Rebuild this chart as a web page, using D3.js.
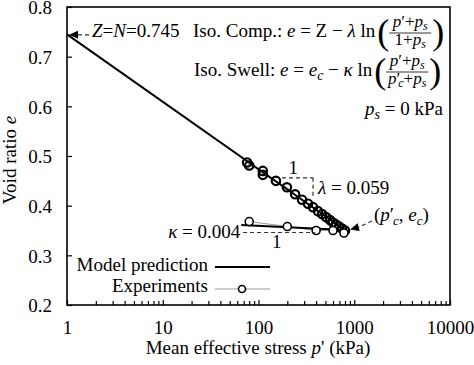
<!DOCTYPE html>
<html><head><meta charset="utf-8">
<script src="https://cdn.jsdelivr.net/npm/d3@7"></script>
</head><body style="margin:0;background:#fff">
<svg id="c" width="474" height="365"></svg>
<script>
// ---- data ----
const xTickValues = [1, 10, 100, 1000, 10000];
const xTickLabels = ["1", "10", "100", "1000", "10000"];
const yTickValues = [0.2, 0.3, 0.4, 0.5, 0.6, 0.7, 0.8];
const yTickLabels = ["0.2", "0.3", "0.4", "0.5", "0.6", "0.7", "0.8"];

// experiments: isotropic compression
const compP = [76, 80, 111, 111, 152, 198, 241, 285, 329, 371, 418, 461, 507, 558, 600, 645, 693, 745, 800];
const compE = [0.487, 0.481, 0.470, 0.462, 0.450, 0.437, 0.423, 0.412, 0.404, 0.397, 0.389, 0.383, 0.377, 0.371, 0.366, 0.362, 0.358, 0.354, 0.350];
// experiments: isotropic swelling
const swellP = [780, 600, 400, 200, 80];
const swellE = [0.345, 0.350, 0.350, 0.358, 0.368];
// model prediction
const modelCompP = [1, 800];
const modelCompE = [0.745, 0.351];
const modelSwellP = [800, 66];
const modelSwellE = [0.351, 0.361];

// ---- layout ----
const FONT = "Liberation Serif";
const svg = d3.select("#c");
const L = 67, R = 450, T = 7, B = 305;
const x = d3.scaleLog().domain([1, 10000]).range([L, R]);
const y = d3.scaleLinear().domain([0.2, 0.8]).range([B, T]);
const FS = 19;

const minor = [];
[1, 10, 100, 1000].forEach(d => { for (let k = 2; k <= 9; k++) minor.push(d * k); });

const gxm = svg.append("g").attr("transform", `translate(0,${B})`)
  .call(d3.axisBottom(x).tickValues(minor).tickSize(-4).tickFormat(""));
const gx = svg.append("g").attr("transform", `translate(0,${B})`)
  .call(d3.axisBottom(x).tickValues(xTickValues).tickSize(-5).tickPadding(16)
    .tickFormat((d, i) => xTickLabels[i]));
const gy = svg.append("g").attr("transform", `translate(${L},0)`)
  .call(d3.axisLeft(y).tickValues(yTickValues).tickSize(-5).tickPadding(15)
    .tickFormat((d, i) => yTickLabels[i]));
[gx, gy, gxm].forEach(g => {
  g.attr("font-family", FONT).attr("font-size", FS);
  g.select(".domain").remove();
  g.selectAll("line").attr("stroke", "#000").attr("stroke-width", 1.2);
});
gy.selectAll("text").attr("dy", "0.36em");

// frame
svg.append("rect").attr("x", L).attr("y", T).attr("width", R - L).attr("height", B - T)
  .attr("fill", "none").attr("stroke", "#000").attr("stroke-width", 1.6);

// axis titles
const xt = svg.append("text").attr("x", 258).attr("y", 354).attr("text-anchor", "middle").attr("font-size", FS);
xt.append("tspan").text("Mean effective stress ");
xt.append("tspan").attr("font-style", "italic").text("p");
xt.append("tspan").text("' (kPa)");
const yt = svg.append("text").attr("transform", "translate(16,160) rotate(-90)").attr("text-anchor", "middle").attr("font-size", FS);
yt.append("tspan").text("Void ratio ");
yt.append("tspan").attr("font-style", "italic").text("e");

// ---- marks ----
const line = d3.line().x(d => x(d[0])).y(d => y(d[1]));
svg.append("path").datum(compP.map((p, i) => [p, compE[i]]).concat(swellP.map((p, i) => [p, swellE[i]])))
  .attr("d", line).attr("fill", "none").attr("stroke", "#999").attr("stroke-width", 1);
svg.append("path").datum(modelCompP.map((p, i) => [p, modelCompE[i]]))
  .attr("d", line).attr("fill", "none").attr("stroke", "#000").attr("stroke-width", 2);
svg.append("path").datum(modelSwellP.map((p, i) => [p, modelSwellE[i]]))
  .attr("d", line).attr("fill", "none").attr("stroke", "#000").attr("stroke-width", 2);
svg.append("g").selectAll("circle").data(compP.map((p, i) => [p, compE[i]])).join("circle")
  .attr("cx", d => x(d[0])).attr("cy", d => y(d[1])).attr("r", 4.2)
  .attr("fill", "none").attr("stroke", "#000").attr("stroke-width", 2.2);
svg.append("g").selectAll("circle").data(swellP.map((p, i) => [p, swellE[i]])).join("circle")
  .attr("cx", d => x(d[0])).attr("cy", d => y(d[1])).attr("r", 4)
  .attr("fill", "#fff").attr("stroke", "#000").attr("stroke-width", 1.6);

// ---- annotations ----
const dash = (x1, y1, x2, y2) => svg.append("line").attr("x1", x1).attr("y1", y1).attr("x2", x2).attr("y2", y2)
  .attr("stroke", "#333").attr("stroke-width", 1.2).attr("stroke-dasharray", "4,3");
const arrowHead = (tx, ty, ang) => {
  const a = ang * Math.PI / 180, l = 9, w = 4;
  const bx = tx - l * Math.cos(a), by = ty - l * Math.sin(a);
  const px = -Math.sin(a) * w, py = Math.cos(a) * w;
  svg.append("path").attr("d", `M${tx},${ty}L${bx + px},${by + py}L${bx - px},${by - py}Z`).attr("fill", "#000");
};
// Z=N
arrowHead(x(1) + 2, y(0.745) + 0.5, 180);
dash(x(1) + 11, y(0.745) + 0.5, x(1) + 23, y(0.745) + 0.5);
const zt = svg.append("text").attr("x", x(1) + 25).attr("y", 37).attr("font-size", FS);
zt.append("tspan").attr("font-style", "italic").text("Z");
zt.append("tspan").text("=");
zt.append("tspan").attr("font-style", "italic").text("N");
zt.append("tspan").text("=0.745");

// lambda triangle
dash(x(176), y(0.456), x(371), y(0.456));
dash(x(371), y(0.456), x(371), y(0.414));
svg.append("text").attr("x", x(230)).attr("y", 174).attr("text-anchor", "middle").attr("font-size", FS).text("1");
const lt = svg.append("text").attr("x", x(371) + 5).attr("y", 194).attr("font-size", FS);
lt.append("tspan").attr("font-style", "italic").text("λ");
lt.append("tspan").text(" = 0.059");

// kappa triangle
dash(x(69), y(0.346), x(390), y(0.346));
svg.append("text").attr("x", x(155)).attr("y", 248).attr("text-anchor", "middle").attr("font-size", FS).text("1");
const kt = svg.append("text").attr("x", x(66) - 1).attr("y", 238).attr("text-anchor", "end").attr("font-size", FS);
kt.append("tspan").attr("font-style", "italic").text("κ");
kt.append("tspan").text(" = 0.004");

// (p'c, ec)
dash(372, 221, 359, 227);
arrowHead(350, 229.5, 165);
const pc = svg.append("text").attr("x", 374).attr("y", 221).attr("font-size", FS);
pc.append("tspan").text("(");
pc.append("tspan").attr("font-style", "italic").text("p");
pc.append("tspan").text("′");
pc.append("tspan").attr("font-style", "italic").attr("font-size", 13).attr("dx", -1).attr("dy", 4).text("c");
pc.append("tspan").attr("dy", -4).text(", ");
pc.append("tspan").attr("font-style", "italic").text("e");
pc.append("tspan").attr("font-style", "italic").attr("font-size", 13).attr("dy", 4).text("c");
pc.append("tspan").attr("dy", -4).text(")");

// equations
function eqLine(x0, yb, parts, numParts, denParts, numDy, denDy) {
  const t = svg.append("text").attr("x", x0).attr("y", yb).attr("font-size", FS).style("font-family", FONT);
  parts.forEach(p => {
    const s = t.append("tspan").text(p.t);
    if (p.i) s.attr("font-style", "italic");
    if (p.sub) s.attr("font-size", 14).attr("dy", 4);
    if (p.up) s.attr("dy", -4);
  });
  const endX = x0 + t.node().getComputedTextLength();
  const px = endX + 2;
  svg.append("text").attr("x", px).attr("y", yb + 7).attr("font-size", 36).text("(");
  const fx = px + 12, fw = 42, cx = fx + fw / 2;
  const mk = (ps, yy) => {
    const tt = svg.append("text").attr("x", cx).attr("y", yy).attr("text-anchor", "middle").attr("font-size", 17);
    ps.forEach(p => {
      const s = tt.append("tspan").text(p.t);
      if (p.i) s.attr("font-style", "italic");
      if (p.sub) s.attr("font-size", 12).attr("dy", 3);
      if (p.up) s.attr("dy", -3);
      if (p.dx) s.attr("dx", p.dx);
    });
  };
  mk(numParts, yb + numDy);
  svg.append("line").attr("x1", fx).attr("x2", fx + fw).attr("y1", yb - 4).attr("y2", yb - 4).attr("stroke", "#000").attr("stroke-width", 0.8);
  mk(denParts, yb + denDy);
  svg.append("text").attr("x", fx + fw + 1).attr("y", yb + 7).attr("font-size", 36).text(")");
}
eqLine(193, 37,
  [{t: "Iso. Comp.: "}, {t: "e", i: 1}, {t: " = Z − "}, {t: "λ", i: 1}, {t: " ln"}],
  [{t: "p", i: 1}, {t: "′+"}, {t: "p", i: 1}, {t: "s", i: 1, sub: 1}],
  [{t: "1+"}, {t: "p", i: 1}, {t: "s", i: 1, sub: 1}], -10, 8);
eqLine(194, 76,
  [{t: "Iso. Swell: "}, {t: "e", i: 1}, {t: " = "}, {t: "e", i: 1}, {t: "c", i: 1, sub: 1}, {t: " − ", up: 1}, {t: "κ", i: 1}, {t: " ln"}],
  [{t: "p", i: 1}, {t: "′+"}, {t: "p", i: 1}, {t: "s", i: 1, sub: 1}],
  [{t: "p", i: 1}, {t: "′"}, {t: "c", i: 1, sub: 1, dx: -2}, {t: "+", up: 1}, {t: "p", i: 1}, {t: "s", i: 1, sub: 1}], -10, 8);
const ps = svg.append("text").attr("x", 443).attr("y", 115).attr("text-anchor", "end").attr("font-size", FS);
ps.append("tspan").attr("font-style", "italic").text("p");
ps.append("tspan").attr("font-style", "italic").attr("font-size", 14).attr("dy", 4).text("s");
ps.append("tspan").attr("dy", -4).text(" = 0 kPa");

// legend
const lg = svg.append("g");
lg.append("text").attr("x", 208).attr("y", 271).attr("text-anchor", "end").attr("font-size", FS).text("Model prediction");
lg.append("line").attr("x1", 215).attr("x2", 270).attr("y1", 267).attr("y2", 267).attr("stroke", "#000").attr("stroke-width", 2.2);
lg.append("text").attr("x", 208).attr("y", 292).attr("text-anchor", "end").attr("font-size", FS).text("Experiments");
lg.append("line").attr("x1", 215).attr("x2", 270).attr("y1", 289).attr("y2", 289).attr("stroke", "#999").attr("stroke-width", 1);
lg.append("circle").attr("cx", 242).attr("cy", 289).attr("r", 3.5).attr("fill", "#fff").attr("stroke", "#000").attr("stroke-width", 1.6);

svg.selectAll("text").style("font-family", FONT);
</script></body></html>
